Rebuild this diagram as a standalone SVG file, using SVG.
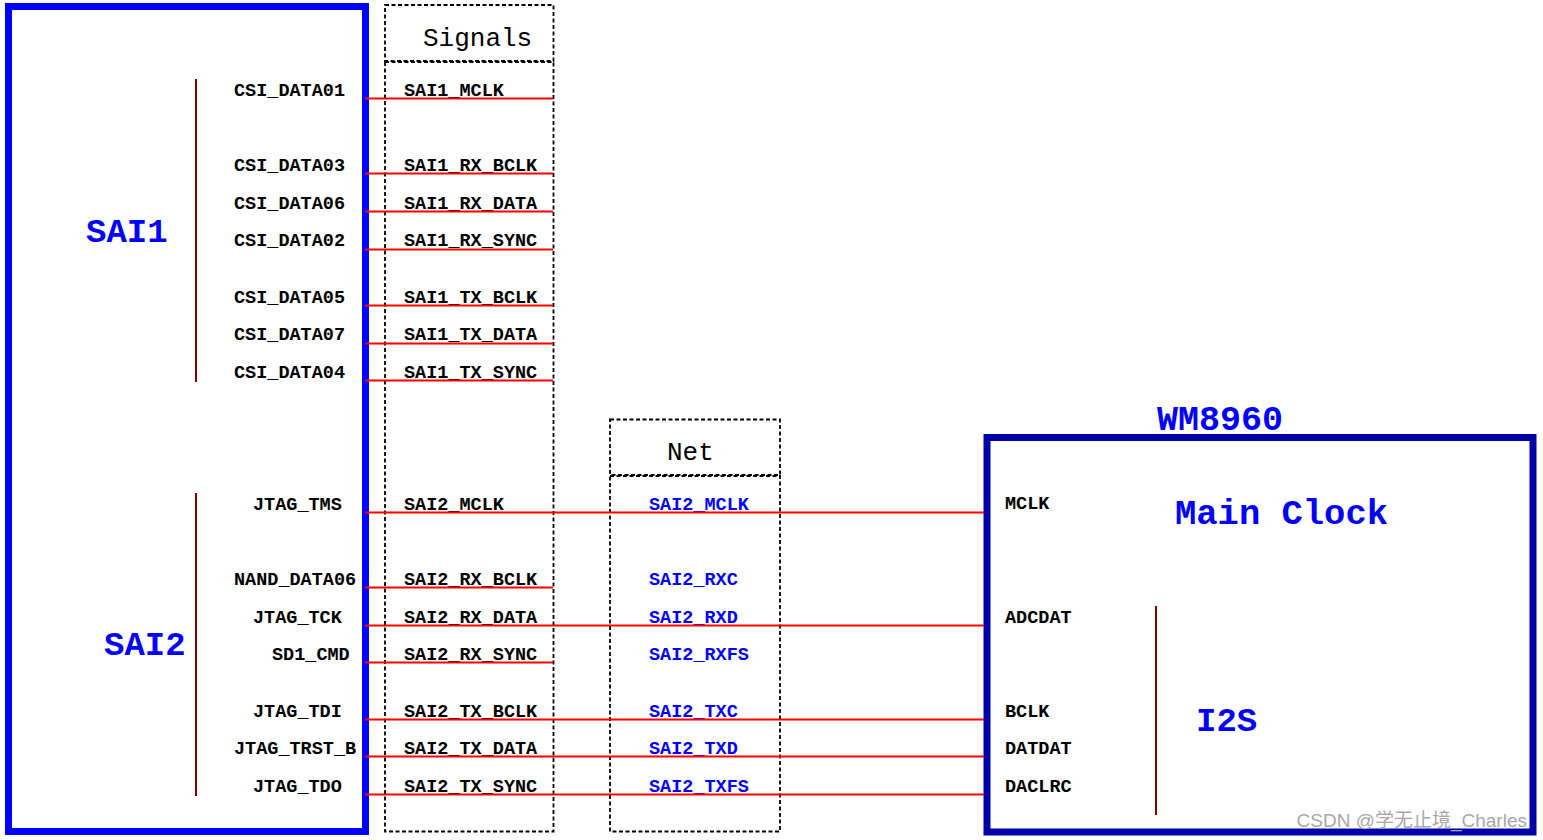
<svg xmlns="http://www.w3.org/2000/svg" width="1543" height="840" viewBox="0 0 1543 840">
<style>
  .bg { fill: #ffffff; }
  .pin { font-family: "Liberation Mono", "Courier New", monospace; font-weight: bold; font-size: 18.5px; fill: #000000; }
  .net { font-family: "Liberation Mono", "Courier New", monospace; font-weight: bold; font-size: 18.5px; fill: #0000ff; }
  .hdr { font-family: "Liberation Mono", "Courier New", monospace; font-size: 26px; fill: #000000; }
  .big { font-family: "Liberation Mono", "Courier New", monospace; font-weight: bold; font-size: 34px; fill: #0000ff; }
  .dash { fill: none; stroke: #000000; stroke-width: 1.8; stroke-dasharray: 4 2.5; }
  .bracket { stroke: #800000; stroke-width: 2; fill: none; }
  .wire { stroke: #ff0000; stroke-width: 2; fill: none; }
  .wm { font-family: "Liberation Sans", "Noto Sans CJK SC", sans-serif; font-size: 19px; fill: #a8a8a8; }
</style>
<rect class="bg" x="0" y="0" width="1543" height="840"/>

<g id="sai1-block">
  <rect x="8.5" y="6.5" width="357" height="825" fill="none" stroke="#0000ff" stroke-width="7"/>
  <text class="big" x="86" y="242">SAI1</text>
  <text class="big" x="104" y="655">SAI2</text>
  <line class="bracket" x1="196" y1="79" x2="196" y2="382"/>
  <line class="bracket" x1="196" y1="493" x2="196" y2="796"/>
  <text class="pin" x="234" y="96">CSI_DATA01</text>
  <text class="pin" x="234" y="171">CSI_DATA03</text>
  <text class="pin" x="234" y="209">CSI_DATA06</text>
  <text class="pin" x="234" y="246">CSI_DATA02</text>
  <text class="pin" x="234" y="303">CSI_DATA05</text>
  <text class="pin" x="234" y="340">CSI_DATA07</text>
  <text class="pin" x="234" y="378">CSI_DATA04</text>
  <text class="pin" x="253" y="510">JTAG_TMS</text>
  <text class="pin" x="234" y="585">NAND_DATA06</text>
  <text class="pin" x="253" y="623">JTAG_TCK</text>
  <text class="pin" x="272" y="660">SD1_CMD</text>
  <text class="pin" x="253" y="717">JTAG_TDI</text>
  <text class="pin" x="234" y="754">JTAG_TRST_B</text>
  <text class="pin" x="253" y="792">JTAG_TDO</text>
</g>

<g id="signals">
  <rect class="dash" x="385" y="5" width="168.5" height="56"/>
  <rect class="dash" x="385" y="62" width="168.5" height="769.5"/>
  <text class="hdr" x="423" y="46">Signals</text>
  <text class="pin" x="404" y="96">SAI1_MCLK</text>
  <text class="pin" x="404" y="171">SAI1_RX_BCLK</text>
  <text class="pin" x="404" y="209">SAI1_RX_DATA</text>
  <text class="pin" x="404" y="246">SAI1_RX_SYNC</text>
  <text class="pin" x="404" y="303">SAI1_TX_BCLK</text>
  <text class="pin" x="404" y="340">SAI1_TX_DATA</text>
  <text class="pin" x="404" y="378">SAI1_TX_SYNC</text>
  <text class="pin" x="404" y="510">SAI2_MCLK</text>
  <text class="pin" x="404" y="585">SAI2_RX_BCLK</text>
  <text class="pin" x="404" y="623">SAI2_RX_DATA</text>
  <text class="pin" x="404" y="660">SAI2_RX_SYNC</text>
  <text class="pin" x="404" y="717">SAI2_TX_BCLK</text>
  <text class="pin" x="404" y="754">SAI2_TX_DATA</text>
  <text class="pin" x="404" y="792">SAI2_TX_SYNC</text>
</g>

<g id="net">
  <rect class="dash" x="610" y="419.5" width="170" height="55.5"/>
  <rect class="dash" x="610" y="476" width="170" height="355.5"/>
  <text class="hdr" x="667" y="460">Net</text>
  <text class="net" x="649" y="510">SAI2_MCLK</text>
  <text class="net" x="649" y="585">SAI2_RXC</text>
  <text class="net" x="649" y="623">SAI2_RXD</text>
  <text class="net" x="649" y="660">SAI2_RXFS</text>
  <text class="net" x="649" y="717">SAI2_TXC</text>
  <text class="net" x="649" y="754">SAI2_TXD</text>
  <text class="net" x="649" y="792">SAI2_TXFS</text>
</g>

<g id="wm8960">
  <rect x="987" y="437.5" width="546" height="394.5" fill="none" stroke="#0000a8" stroke-width="7"/>
  <text class="big" x="1157" y="429.5" style="font-size:35px">WM8960</text>
  <text class="big" x="1175" y="524" style="font-size:35.5px">Main Clock</text>
  <text class="big" x="1196" y="731">I2S</text>
  <line class="bracket" x1="1156" y1="606" x2="1156" y2="815"/>
  <text class="pin" x="1005" y="509">MCLK</text>
  <text class="pin" x="1005" y="623">ADCDAT</text>
  <text class="pin" x="1005" y="717">BCLK</text>
  <text class="pin" x="1005" y="754">DATDAT</text>
  <text class="pin" x="1005" y="792">DACLRC</text>
</g>

<g id="connectors">
  <line class="wire" x1="365" y1="98.5" x2="553" y2="98.5"/>
  <line class="wire" x1="365" y1="173.5" x2="553" y2="173.5"/>
  <line class="wire" x1="365" y1="211.5" x2="553" y2="211.5"/>
  <line class="wire" x1="365" y1="249.5" x2="553" y2="249.5"/>
  <line class="wire" x1="365" y1="305.5" x2="553" y2="305.5"/>
  <line class="wire" x1="365" y1="343.5" x2="553" y2="343.5"/>
  <line class="wire" x1="365" y1="380.5" x2="553" y2="380.5"/>
  <line class="wire" x1="365" y1="512.5" x2="984" y2="512.5"/>
  <line class="wire" x1="365" y1="587.5" x2="553" y2="587.5"/>
  <line class="wire" x1="365" y1="625.5" x2="984" y2="625.5"/>
  <line class="wire" x1="365" y1="662.5" x2="553" y2="662.5"/>
  <line class="wire" x1="365" y1="719.5" x2="984" y2="719.5"/>
  <line class="wire" x1="365" y1="756.5" x2="984" y2="756.5"/>
  <line class="wire" x1="365" y1="794.5" x2="984" y2="794.5"/>
</g>

<text class="wm" x="1527" y="827" text-anchor="end">CSDN @学无止境_Charles</text>
</svg>
